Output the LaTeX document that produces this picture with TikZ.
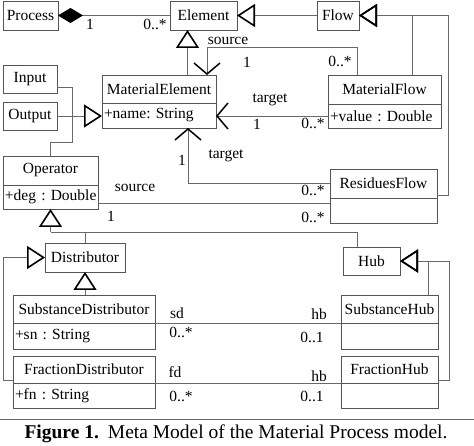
\documentclass[tikz,border=0pt]{standalone}
\usepackage{fontspec}
\setmainfont{Liberation Serif}
\usetikzlibrary{arrows.meta,positioning}

\definecolor{boxgray}{RGB}{85,85,85}
\definecolor{linegray}{RGB}{105,105,105}

\begin{document}
\begin{tikzpicture}[x=1pt,y=-1pt,
                every node/.style={font=\fontsize{15.5}{18}\selectfont\frenchspacing},
                cls/.style={draw=boxgray,line width=0.9pt,inner sep=0pt,outer sep=0pt,anchor=north west},
                attr/.style={cls,anchor=north,align=left,inner xsep=2pt,inner ysep=0pt},
                conn/.style={draw=linegray,line width=0.9pt},
                gen/.style={conn,-{Triangle[open,length=18pt,width=23pt,line width=1.6pt,color=black]}},
                nav/.style={conn,-{Straight Barb[length=11pt,width=26pt,line width=1.5pt,color=black]}},
                comp/.style={conn,{Diamond[length=25pt,width=15pt,color=black]}-},
                lbl/.style={inner sep=0pt}]
            \useasboundingbox (0,0) rectangle (474,446);
            % classes
            \node[cls,minimum width=55pt,minimum height=29pt] (process) at (3,1) {Process};
            \node[cls,minimum width=67pt,minimum height=29pt] (element) at (170,1) {Element};
            \node[cls,minimum width=42pt,minimum height=29pt] (flow) at (317,1) {Flow};
            \node[cls,minimum width=54pt,minimum height=28pt] (input) at (3,65) {Input};
            \node[cls,minimum width=54pt,minimum height=28pt] (output) at (3,102) {Output};
            \node[cls,minimum width=114pt,minimum height=28pt] (matelem) at (102,75) {MaterialElement};
            \node[attr,text width=110pt,minimum height=25pt,below=0pt of matelem] (matelemattr) {\mbox{+name: String}};
            \node[cls,minimum width=113pt,minimum height=29pt] (matflow) at (328,75) {MaterialFlow};
            \node[attr,text width=109pt,minimum height=24pt,below=0pt of matflow] (matflowattr) {\mbox{+value : Double}};
            \node[cls,minimum width=95pt,minimum height=29pt] (operator) at (3,156) {Operator};
            \node[attr,text width=91pt,minimum height=24pt,below=0pt of operator] (operatorattr) {\mbox{+deg : Double}};
            \node[cls,minimum width=107pt,minimum height=29pt] (resflow) at (330,169) {ResiduesFlow};
            \node[attr,text width=103pt,minimum height=25pt,below=0pt of resflow] (resflowattr) {};
            \node[cls,minimum width=80pt,minimum height=29pt] (distributor) at (45,243) {Distributor};
            \node[cls,minimum width=57pt,minimum height=28pt] (hub) at (343,247) {Hub};
            \node[cls,minimum width=142pt,minimum height=28pt] (subdist) at (13,295) {SubstanceDistributor};
            \node[attr,text width=138pt,minimum height=26pt,below=0pt of subdist] (subdistattr) {\mbox{+sn : String}};
            \node[cls,minimum width=97pt,minimum height=28pt] (subhub) at (341,295) {SubstanceHub};
            \node[attr,text width=93pt,minimum height=26pt,below=0pt of subhub] (subhubattr) {};
            \node[cls,minimum width=142pt,minimum height=27pt] (fracdist) at (13,356) {FractionDistributor};
            \node[attr,text width=138pt,minimum height=25pt,below=0pt of fracdist] (fracdistattr) {\mbox{+fn : String}};
            \node[cls,minimum width=97pt,minimum height=27pt] (frachub) at (341,356) {FractionHub};
            \node[attr,text width=93pt,minimum height=25pt,below=0pt of frachub] (frachubattr) {};
            \coordinate (opjoin) at (50.5,232);

            % composition and generalizations
            \draw[comp] (process.east) -- (element.west);
            \draw[gen] ([xshift=-16pt]element.south |- matelem.north) -- ([xshift=-16pt]element.south);
            \draw[gen] (flow.west) -- (element.east);
            \draw[gen] ([xshift=27.5pt]matflow.north) |- (flow.east);
            \draw[gen] ([yshift=3pt]resflow.south east) -| ([xshift=89pt]flow.east) -- (flow.east);
            \draw[gen] (output.east) -- (output.east -| matelemattr.west);
            \draw[conn] ([yshift=-8pt]input.east) -| ([xshift=15pt]output.east);
            \draw[conn] (operator.north) -- ++(0,-14) -| ([xshift=15pt]output.east);
            \draw[gen] (opjoin) -- (operatorattr.south);
            \draw[conn] (distributor.north) |- (opjoin);
            \draw[conn] ([xshift=-14.5pt]hub.north) |- (opjoin);
            \draw[gen] ([yshift=3pt]fracdist.south west) -- ++(-10,0) |- (distributor.west);
            \draw[gen] (distributor.south |- subdist.north) -- (distributor.south);
            \draw[gen] ([xshift=38.5pt]subhub.north) |- (hub.east);
            \draw[gen] ([yshift=3pt]frachub.south east) -- ++(11,0) |- (hub.east);

            % associations
            \draw[nav] ([xshift=-27.5pt]matflow.north) -- ++(0,-28) -| ([xshift=48pt]matelem.north);
            \draw[nav] (matflowattr.west) -- (matflowattr.west -| matelemattr.east);
            \draw[nav] (resflow.west) -| ([xshift=29pt]matelemattr.south);
            \draw[conn] ([yshift=-6pt]operatorattr.east) -- ([yshift=-6pt]operatorattr.east -| resflowattr.west);
            \draw[conn] (subdist.south east) -- (subhub.south west);
            \draw[conn] (fracdist.south east) -- (frachub.south west);

            % role names and multiplicities
            \node[lbl] (c1) at (90,24) {1};
            \node[lbl] (cn) at (155,24) {0..*};
            \node[lbl] (srcname) at (228,41) {source};
            \node[lbl] (src1) at (247,62) {1};
            \node[lbl] (srcn) at (340,61) {0..*};
            \node[lbl] (tgtname) at (270,100) {target};
            \node[lbl] (tgt1) at (257,124) {1};
            \node[lbl] (tgtn) at (313,123) {0..*};
            \node[lbl] (rtgt1) at (182,160) {1};
            \node[lbl] (rtgtname) at (226,156) {target};
            \node[lbl] (rtgtn) at (313,190) {0..*};
            \node[lbl] (rsrcname) at (135,188) {source};
            \node[lbl] (rsrc1) at (111,216) {1};
            \node[lbl] (rsrcn) at (313,217) {0..*};
            \node[lbl] (sdname) at (177,313) {sd};
            \node[lbl] (sdn) at (181,332) {0..*};
            \node[lbl] (sdhb) at (319,314) {hb};
            \node[lbl] (sdhbn) at (312,337) {0..1};
            \node[lbl] (fdname) at (175,372) {fd};
            \node[lbl] (fdn) at (181,396) {0..*};
            \node[lbl] (fdhb) at (319,376) {hb};
            \node[lbl] (fdhbn) at (312,396) {0..1};

            % caption
            \draw[draw=linegray,line width=0.9pt] (0,419) -- (474,419);
            \node[font=\fontsize{19.5}{22}\selectfont] (caption) at (236,434) {\textbf{Figure 1.}\hspace{9pt}Meta Model of the Material Process model.};
        \end{tikzpicture}
\end{document}
